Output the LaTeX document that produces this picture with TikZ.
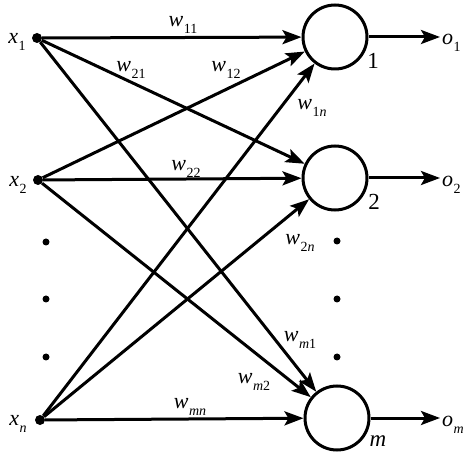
\documentclass[tikz,border=0pt]{standalone}
\usepackage{fontspec}
\setmainfont{Liberation Serif}
\usetikzlibrary{arrows.meta}
\newcommand{\mysub}[2]{\textit{#1}\kern0.5pt\raisebox{-0.3em}{\fontsize{14}{15}\selectfont #2}}
\begin{document}
\begin{tikzpicture}[x=1pt,y=-1pt,
  conn/.style={line width=3pt,-{Stealth[length=19pt,width=14pt,inset=4pt]}},
  inp/.style={circle,fill=black,inner sep=0pt,minimum size=10pt},
  neuron/.style={circle,draw,line width=3pt,minimum size=64pt,inner sep=0pt},
  sdot/.style={circle,fill=black,inner sep=0pt,minimum size=7pt},
  lbl/.style={font=\fontsize{22}{24}\selectfont,inner sep=0pt},
  num/.style={font=\fontsize{23}{26}\selectfont,inner sep=0pt}]
\useasboundingbox (0,0) rectangle (474,454);
% inputs
\node[inp] (x1) at (37,38) {};
\node[inp] (x2) at (38,180) {};
\node[inp] (xn) at (40,420) {};
\node[lbl] (lx1) at (17,42) {\mysub{x}{1}};
\node[lbl] (lx2) at (18,185) {\mysub{x}{2}};
\node[lbl] (lxn) at (18,424) {\mysub{x}{\textit{n}}};
% neurons
\node[neuron] (n1) at (335,37) {};
\node[neuron] (n2) at (335,178) {};
\node[neuron] (nm) at (337,418) {};
\node[num] (l1) at (373,61) {1};
\node[num] (l2) at (374,202) {2};
\node[num] (lm) at (378,441) {\textit{m}};
% dots
\node[sdot] (dl1) at (46,242) {};
\node[sdot] (dl2) at (46,299) {};
\node[sdot] (dl3) at (46,357) {};
\node[sdot] (dr1) at (337,241) {};
\node[sdot] (dr2) at (337,299) {};
\node[sdot] (dr3) at (337,357) {};
% connections
\foreach \s in {x1,x2,xn}{
  \foreach \t in {n1,n2,nm}{
    \draw[conn] (\s) -- (\t);
  }
}
% outputs
\coordinate (o1e) at (440,37);
\coordinate (o2e) at (440,178);
\coordinate (ome) at (440,418);
\draw[conn] (n1) -- (o1e);
\draw[conn] (n2) -- (o2e);
\draw[conn] (nm) -- (ome);
\node[lbl,anchor=west] (o1) at (442,43) {\mysub{o}{1}};
\node[lbl,anchor=west] (o2) at (442,185) {\mysub{o}{2}};
\node[lbl,anchor=west] (om) at (442,425) {\mysub{o}{\textit{m}}};
% weights
\node[lbl] (w11) at (183,25) {\mysub{w}{11}};
\node[lbl] (w21) at (131,70) {\mysub{w}{21}};
\node[lbl] (w12) at (226,70) {\mysub{w}{12}};
\node[lbl] (w1n) at (312,108) {\mysub{w}{1\textit{n}}};
\node[lbl] (w22) at (186,169) {\mysub{w}{22}};
\node[lbl] (w2n) at (300,243) {\mysub{w}{2\textit{n}}};
\node[lbl] (wm1) at (300,340) {\mysub{w}{\textit{m}1}};
\node[lbl] (wm2) at (254,382) {\mysub{w}{\textit{m}2}};
\node[lbl] (wmn) at (190,407) {\mysub{w}{\textit{mn}}};
\end{tikzpicture}
\end{document}
